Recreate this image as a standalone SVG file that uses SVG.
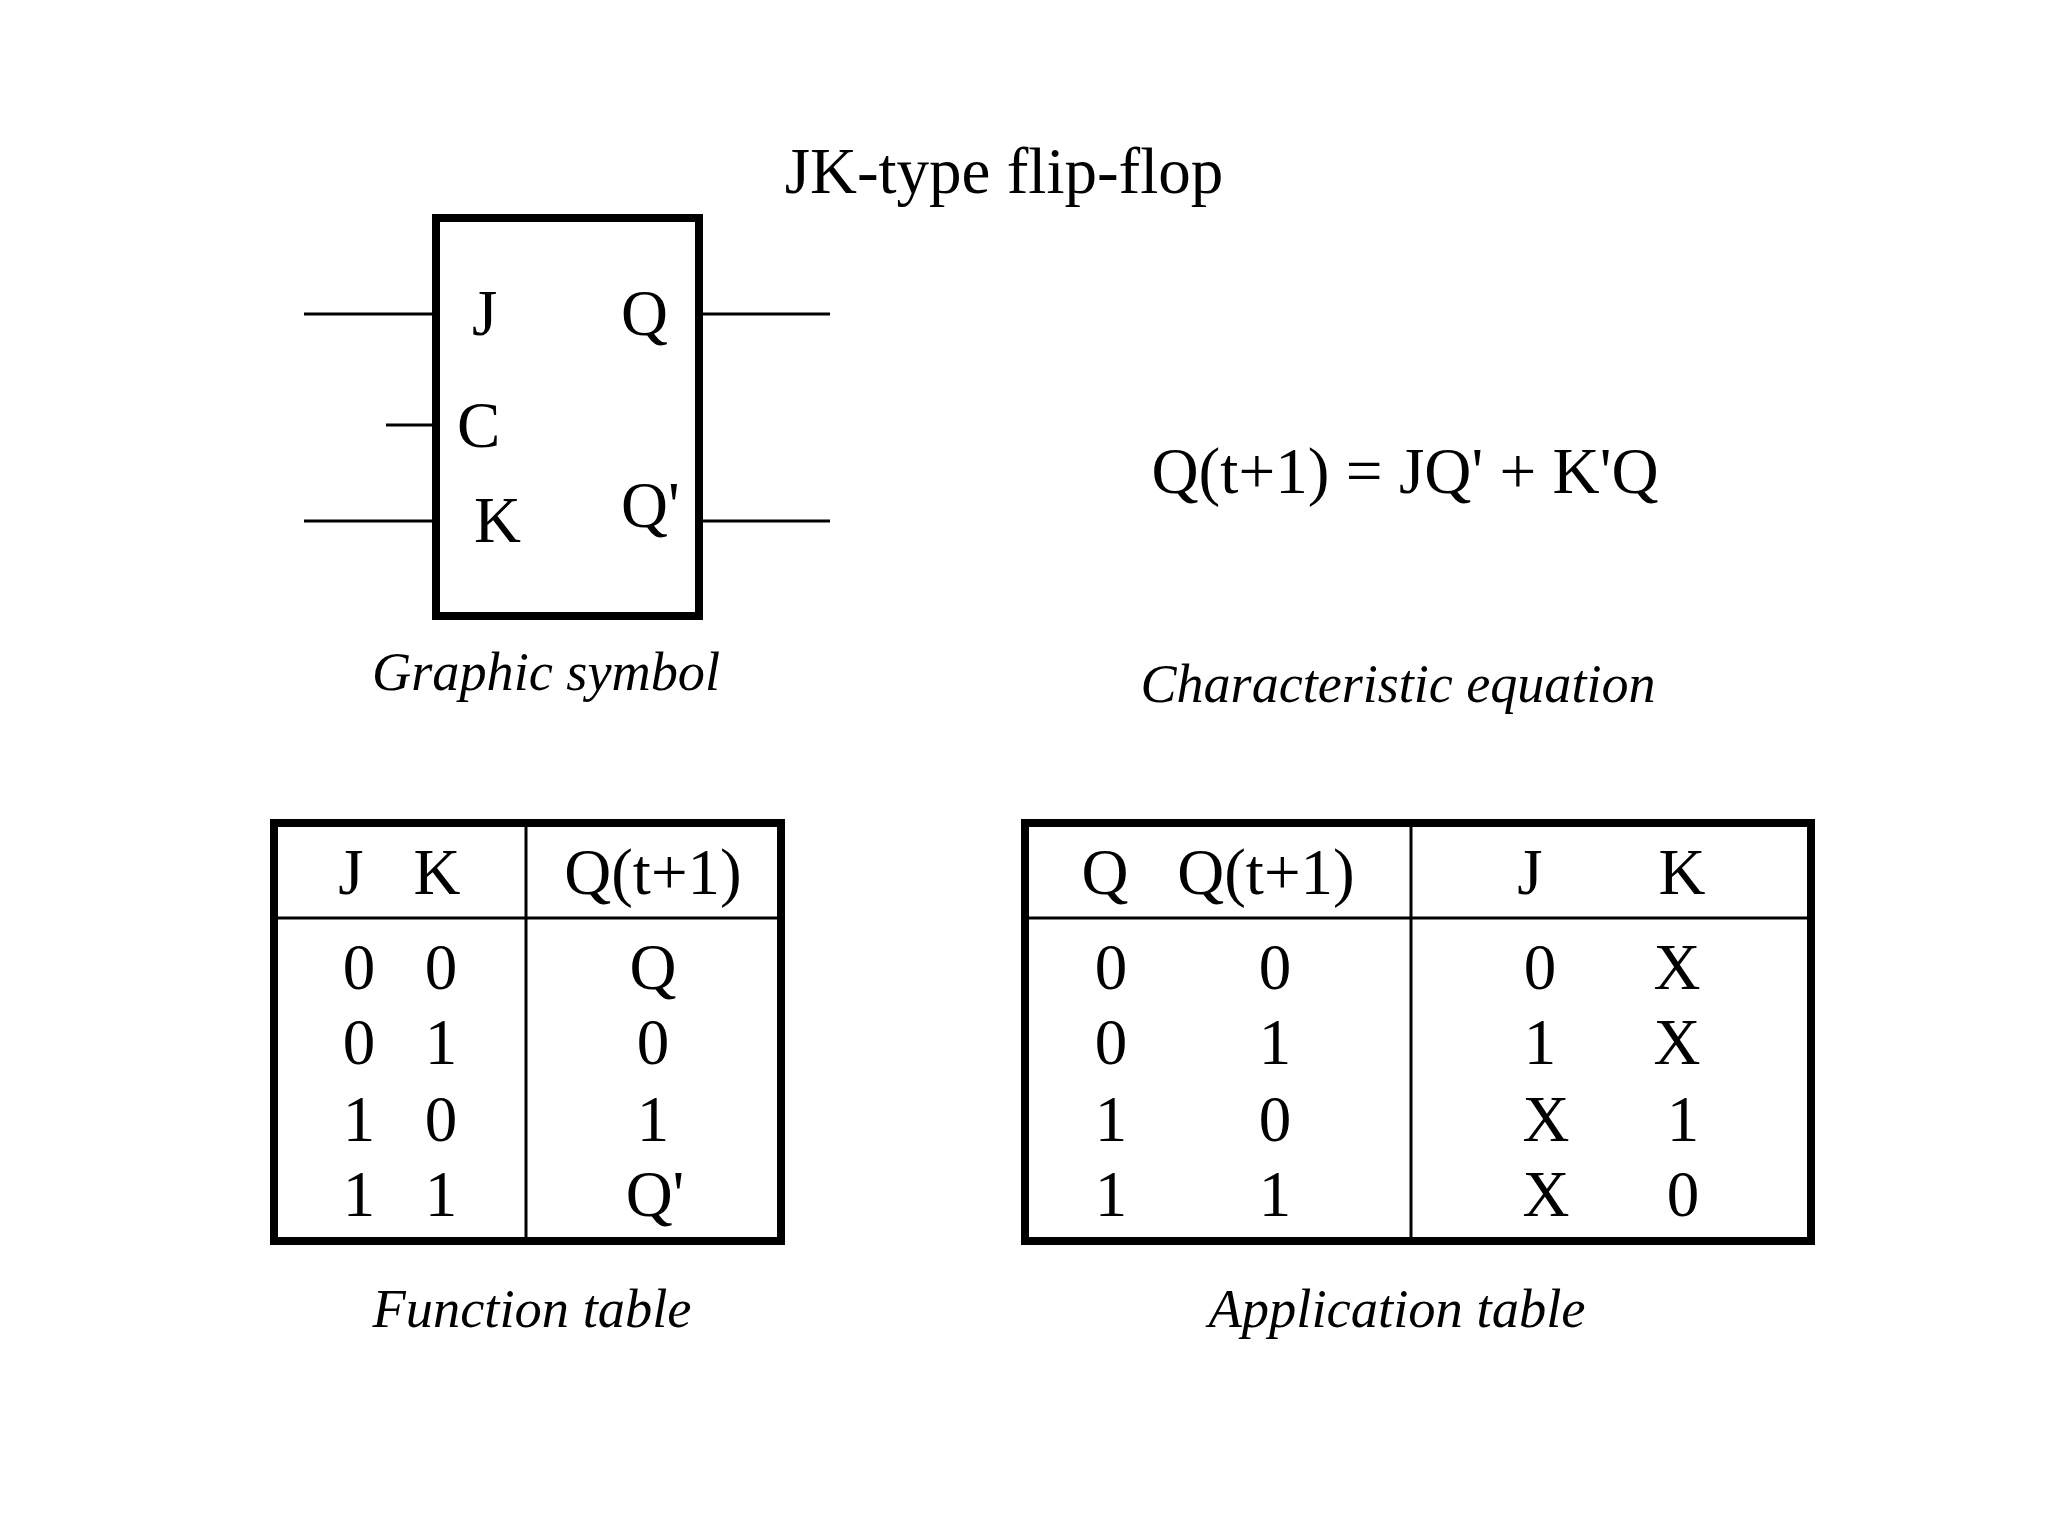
<svg xmlns="http://www.w3.org/2000/svg" width="2048" height="1536" viewBox="0 0 2048 1536">
<style>
text{font-family:"Liberation Serif","Times New Roman",serif;fill:#000}
.t{font-size:65px}
.c{font-size:65px;text-anchor:middle}
.cap{font-size:54px;font-style:italic;text-anchor:middle}
.box{fill:#fff;stroke:#000;stroke-width:8}
.pin{stroke:#000;stroke-width:3;fill:none}
.div{stroke:#000;stroke-width:3;fill:none}
</style>
<rect width="2048" height="1536" fill="#fff"/>
<g id="title"><text class="c" x="1004" y="193">JK-type flip-flop</text></g>

<g id="connectors">
<line class="pin" x1="304" y1="314" x2="436" y2="314"/>
<line class="pin" x1="386" y1="425" x2="436" y2="425"/>
<line class="pin" x1="304" y1="521" x2="436" y2="521"/>
<line class="pin" x1="699" y1="314" x2="830" y2="314"/>
<line class="pin" x1="699" y1="521" x2="830" y2="521"/>
</g>

<g id="flipflop">
<rect class="box" x="436" y="218" width="263" height="398"/>
<text class="t" x="472" y="335">J</text>
<text class="t" x="621" y="335">Q</text>
<text class="t" x="457" y="447">C</text>
<text class="t" x="474" y="542">K</text>
<text class="t" x="621" y="527">Q'</text>
</g>
<g id="cap-symbol"><text class="cap" x="546" y="690" textLength="348" lengthAdjust="spacingAndGlyphs">Graphic symbol</text></g>

<g id="equation">
<text class="c" x="1405" y="493" font-size="66" textLength="507" lengthAdjust="spacingAndGlyphs">Q(t+1) = JQ' + K'Q</text>
<text class="cap" x="1398" y="702" textLength="515" lengthAdjust="spacingAndGlyphs">Characteristic equation</text>
</g>

<g id="function-table">
<rect class="box" x="274" y="823" width="507" height="418"/>
<line class="div" x1="526" y1="823" x2="526" y2="1241"/>
<line class="div" x1="274" y1="918" x2="781" y2="918"/>
<text class="c" x="351" y="894">J</text>
<text class="c" x="437" y="894">K</text>
<text class="c" x="653" y="894">Q(t+1)</text>
<text class="c" x="359" y="989">0</text><text class="c" x="441" y="989">0</text><text class="c" x="653" y="989">Q</text>
<text class="c" x="359" y="1064">0</text><text class="c" x="441" y="1064">1</text><text class="c" x="653" y="1064">0</text>
<text class="c" x="359" y="1141">1</text><text class="c" x="441" y="1141">0</text><text class="c" x="653" y="1141">1</text>
<text class="c" x="359" y="1216">1</text><text class="c" x="441" y="1216">1</text><text class="c" x="655" y="1216">Q'</text>
<text class="cap" x="532" y="1327" textLength="319" lengthAdjust="spacingAndGlyphs">Function table</text>
</g>

<g id="application-table">
<rect class="box" x="1025" y="823" width="786" height="418"/>
<line class="div" x1="1411" y1="823" x2="1411" y2="1241"/>
<line class="div" x1="1025" y1="918" x2="1811" y2="918"/>
<text class="c" x="1105" y="894">Q</text>
<text class="c" x="1266" y="894">Q(t+1)</text>
<text class="c" x="1530" y="894">J</text>
<text class="c" x="1682" y="894">K</text>
<text class="c" x="1111" y="989">0</text><text class="c" x="1275" y="989">0</text><text class="c" x="1540" y="989">0</text><text class="c" x="1677" y="989">X</text>
<text class="c" x="1111" y="1064">0</text><text class="c" x="1275" y="1064">1</text><text class="c" x="1540" y="1064">1</text><text class="c" x="1677" y="1064">X</text>
<text class="c" x="1111" y="1141">1</text><text class="c" x="1275" y="1141">0</text><text class="c" x="1546" y="1141">X</text><text class="c" x="1683" y="1141">1</text>
<text class="c" x="1111" y="1216">1</text><text class="c" x="1275" y="1216">1</text><text class="c" x="1546" y="1216">X</text><text class="c" x="1683" y="1216">0</text>
<text class="cap" x="1397" y="1327" textLength="377" lengthAdjust="spacingAndGlyphs">Application table</text>
</g>
</svg>
